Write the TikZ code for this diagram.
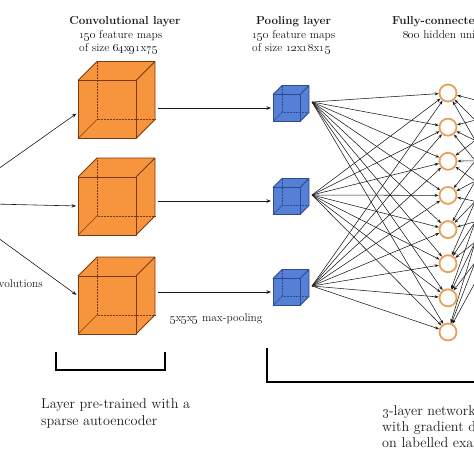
\documentclass[tikz,border=0pt]{standalone}
\usetikzlibrary{arrows.meta,calc}
\definecolor{convfill}{HTML}{F7953F}
\definecolor{convedge}{HTML}{7A3A0E}
\definecolor{poolfill}{HTML}{5580D6}
\definecolor{pooledge}{HTML}{2E4A90}
\definecolor{neuron}{HTML}{E8A05A}
\definecolor{ink}{HTML}{1A1A1A}
\tikzset{
  arr/.style={draw=ink, line width=0.6pt, shorten >=2pt, -{Stealth[length=4.5pt,width=3.5pt]}},
  link/.style={draw=ink, line width=0.55pt, -{Stealth[length=4pt,width=3pt]}},
  unit/.style={circle, draw=neuron, line width=1.8pt, fill=white, minimum size=17pt, inner sep=0},
  lbl/.style={text=ink, inner sep=0, font=\fontsize{11.4}{13.5}\selectfont},
  ttl/.style={text=ink, inner sep=0, font=\fontsize{11.6}{13}\selectfont\bfseries},
  big/.style={text=ink, inner sep=0, font=\fontsize{14.2}{16}\selectfont, align=left},
  bracket/.style={draw=black, line width=2.6pt},
}
\newcommand{\osn}[1]{\oldstylenums{#1}}
\newcommand{\mycube}[7]{%
  \node[minimum width=#4pt, minimum height=#4pt, inner sep=0, outer sep=0] (#1) at (#2,#3) {};
  \fill[#6] (#1.south west) -- (#1.north west) -- ++(#5,-#5) -- ++(#4,0) -- ++(0,#4) -- (#1.south east) -- cycle;
  \draw[#7, line width=0.5pt, densely dotted] (#1.north west) ++(#5,-#5) coordinate (#1bt) -- ++(0,#4) coordinate (#1bb) -- ++(#4,0);
  \draw[#7, line width=0.5pt] (#1.south west) -- (#1bb);
  \draw[#7, line width=0.9pt, line join=round] (#1.south west) rectangle (#1.north east);
  \draw[#7, line width=0.9pt, line join=round] (#1.north west) -- (#1bt) -- ++(#4,0) -- ++(0,#4) -- (#1.south east) (#1.north east) -- ++(#5,-#5);
}
\begin{document}
\begin{tikzpicture}[x=1pt,y=-1pt]
\useasboundingbox (0,0) rectangle (474,474);
\clip (0,0) rectangle (474,474);

% titles
\node[ttl, anchor=base] (t1) at (125,24) {Convolutional layer};
\node[lbl, anchor=base west] (t1a) at (79,38) {\osn{150} feature maps};
\node[lbl, anchor=base west] (t1b) at (79,51) {of size \osn{64}x\osn{91}x\osn{75}};
\node[ttl, anchor=base] (t2) at (293.5,24) {Pooling layer};
\node[lbl, anchor=base west] (t2a) at (252,38) {\osn{150} feature maps};
\node[lbl, anchor=base west] (t2b) at (252,51) {of size \osn{12}x\osn{18}x\osn{15}};
\node[ttl, anchor=base west] (t3) at (392,24) {Fully-connected layer};
\node[lbl, anchor=base west] (t3a) at (403,38) {\osn{800} hidden units};

% conv cubes
\mycube{c1}{107}{109.5}{58}{19}{convfill}{convedge}
\mycube{c2}{107}{206}{58}{19}{convfill}{convedge}
\mycube{c3}{107}{305}{58}{19}{convfill}{convedge}

% pooling cubes
\mycube{p1}{286.5}{108}{27}{9}{poolfill}{pooledge}
\mycube{p2}{286.5}{201}{27}{9}{poolfill}{pooledge}
\mycube{p3}{286.5}{292}{27}{9}{poolfill}{pooledge}

% input arrows
\coordinate (src) at (-50,203);
\draw[arr] (src) -- ([yshift=-3pt]c1.west);
\draw[arr] (src) -- (c2.west);
\draw[arr] (src) -- ([yshift=9pt]c3.west);
\node[lbl, anchor=base east] (conv) at (43,287) {convolutions};

% conv -> pool
\foreach \k in {1,2,3}{
  \path (c\k.east) ++(22,0) coordinate (c\k o);
  \draw[arr] (c\k o |- p\k.west) -- (p\k.west);
  \path (p\k.east) ++(12,-6) coordinate (p\k o);
}
\node[lbl, anchor=base west] (mp) at (170,321) {\osn{5}x\osn{5}x\osn{5} max-pooling};

% neurons
\foreach \i in {1,...,8}{
  \node[unit] (n\i) at (448,{93+34.14*(\i-1)}) {};
}
\foreach \k in {1,2,3}{
  \foreach \i in {1,...,8}{
    \draw[link] (p\k o) -- (n\i);
  }
}
% next layer (off picture)
\coordinate (o1) at (515,110);
\coordinate (o2) at (515,160);
\coordinate (o3) at (515,210);
\foreach \j in {1,2,3}{
  \foreach \i in {1,...,8}{
    \draw[link] (o\j) -- (n\i);
  }
}

% brackets
\draw[bracket] (56,352) -- (56,370) -- (165,370) -- (165,352);
\draw[bracket] (267,348) -- (267,382) -- (480,382);

\node[big, anchor=base west] (b1) at (41,408) {Layer pre-trained with a};
\node[big, anchor=base west] (b1b) at (41,425) {sparse autoencoder};
\node[big, anchor=base west] (b2) at (382,415) {\osn{3}-layer network};
\node[big, anchor=base west] (b2b) at (382,431) {with gradient descent};
\node[big, anchor=base west] (b2c) at (382,447) {on labelled examples};
\end{tikzpicture}
\end{document}
